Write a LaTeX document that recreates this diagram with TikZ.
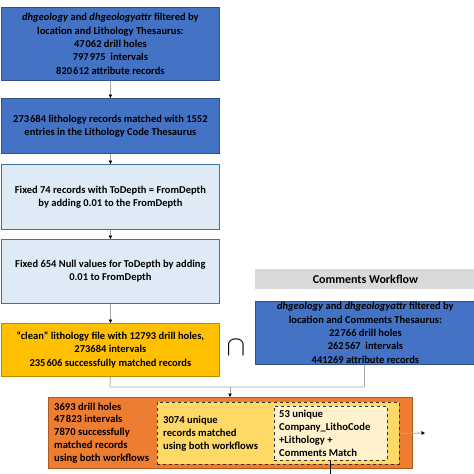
\documentclass[tikz,border=0pt]{standalone}
\usepackage{graphicx}
\usepackage{fontspec}
\setmainfont{Carlito}
\usetikzlibrary{arrows.meta}
\definecolor{dblue}{HTML}{4472C4}
\definecolor{dblueb}{HTML}{2F528F}
\definecolor{lblue}{HTML}{DEEBF7}
\definecolor{lblueb}{HTML}{41719C}
\definecolor{myyel}{HTML}{FFC000}
\definecolor{myyelb}{HTML}{BC8C00}
\definecolor{myor}{HTML}{ED7D31}
\definecolor{myorb}{HTML}{AE5A21}
\definecolor{ltyel}{HTML}{FFD966}
\definecolor{paleyel}{HTML}{FFF2CC}
\definecolor{gband}{HTML}{D9D9D9}
\definecolor{lgray}{HTML}{A6A6A6}
\tikzset{
  box/.style={draw, line width=0.8pt, anchor=north west, inner sep=0pt, align=center,
     font=\fontsize{10.5}{13.3}\selectfont\bfseries, text=black},
  conn/.style={draw=lgray, line width=0.8pt},
  arr/.style={conn, -{Triangle[length=3.5pt,width=3.5pt,black]}},
  ltext/.style={anchor=west, align=left, inner sep=0pt, font=\fontsize{10.6}{12.9}\selectfont\bfseries, text=black}
}
\begin{document}
\begin{tikzpicture}[x=1pt,y=-1pt]
\useasboundingbox (0,0) rectangle (474,474);
% boxes
\node[box, fill=dblue, draw=dblueb, minimum width=218pt, minimum height=73pt] (b1) at (1,7)
  {\textit{dhgeology} and \textit{dhgeologyattr} filtered by\\ location and Lithology Thesaurus:\\ 47\kern1pt062 drill holes\\ 797\kern1pt975 \ intervals\\ 820\kern1pt612 attribute records};
\node[box, fill=dblue, draw=dblueb, minimum width=218pt, minimum height=55pt] (b2) at (1,98)
  {273\kern1pt684 lithology records matched with 1552\\ entries in the Lithology Code Thesaurus};
\node[box, fill=lblue, draw=lblueb, minimum width=218pt, minimum height=65pt] (b3) at (1,164)
  {Fixed 74 records with ToDepth = FromDepth\\ by adding 0.01 to the FromDepth};
\node[box, fill=lblue, draw=lblueb, minimum width=218pt, minimum height=64pt] (b4) at (1,239)
  {Fixed 654 Null values for ToDepth by adding\\ 0.01 to FromDepth};
\node[box, fill=myyel, draw=myyelb, minimum width=218pt, minimum height=53pt] (b5) at (1,323)
  {``clean'' lithology file with 12793 drill holes,\\ 273684 intervals\\ 235\kern1pt606 successfully matched records};
\node[box, fill=gband, draw=none, minimum width=220pt, minimum height=20pt, font=\fontsize{12}{14}\selectfont\bfseries] (cw) at (255,269)
  {Comments Workflow};
\node[box, fill=dblue, draw=dblueb, minimum width=220pt, minimum height=63pt] (cb) at (255,301)
  {\textit{dhgeology} and \textit{dhgeologyattr} filtered by\\ location and Comments Thesaurus:\\ 22\kern1pt766 drill holes\\ 262\kern1pt567 \ intervals\\ 441269 attribute records};
\node[inner sep=0pt] (cap) at (236,348) {\scalebox{2.8}{$\cap$}};
% bottom composite
\node[box, fill=myor, draw=myorb, minimum width=364pt, minimum height=71pt] (ob) at (48,397) {};
\node[box, fill=ltyel, draw=black!80, dashed, line width=0.9pt, minimum width=242pt, minimum height=62pt] (yb) at (157,402) {};
\node[box, fill=paleyel, draw=black!80, dashed, line width=0.9pt, minimum width=113pt, minimum height=54pt] (pb) at (274,406) {};
\node[ltext] (ot) at (54,433) {3693 drill holes\\ 47\kern1pt823 intervals\\ 7870 successfully\\ matched records\\ using both workflows};
\node[ltext] (yt) at (163,433.5) {3074 unique\\ records matched\\ using both workflows};
\node[ltext] (pt) at (279,433.5) {53 unique\\ Company\_LithoCode\\ +Lithology +\\ Comments Match};
% connectors
\draw[arr] (b1.south) -- (b2.north);
\draw[arr] (b2.south) -- (b3.north);
\draw[arr] (b3.south) -- (b4.north);
\draw[arr] (b4.south) -- (b5.north);
\coordinate (jl) at (110,387);
\coordinate (jr) at (364,387);
\coordinate (jm) at (230,387);
\draw[conn] (b5.south) -- (jl) -- (jr);
\draw[conn] (cb.south -| jr) -- (jr);
\draw[arr] (jm) -- (ob.north -| jm);
\coordinate (oe) at (425,433);
\draw[arr] (yb.east) -- (oe);
\coordinate (bend) at (330,476);
\draw[draw=black, line width=0.8pt] (pb.south -| bend) -- (bend);
\end{tikzpicture}
\end{document}
